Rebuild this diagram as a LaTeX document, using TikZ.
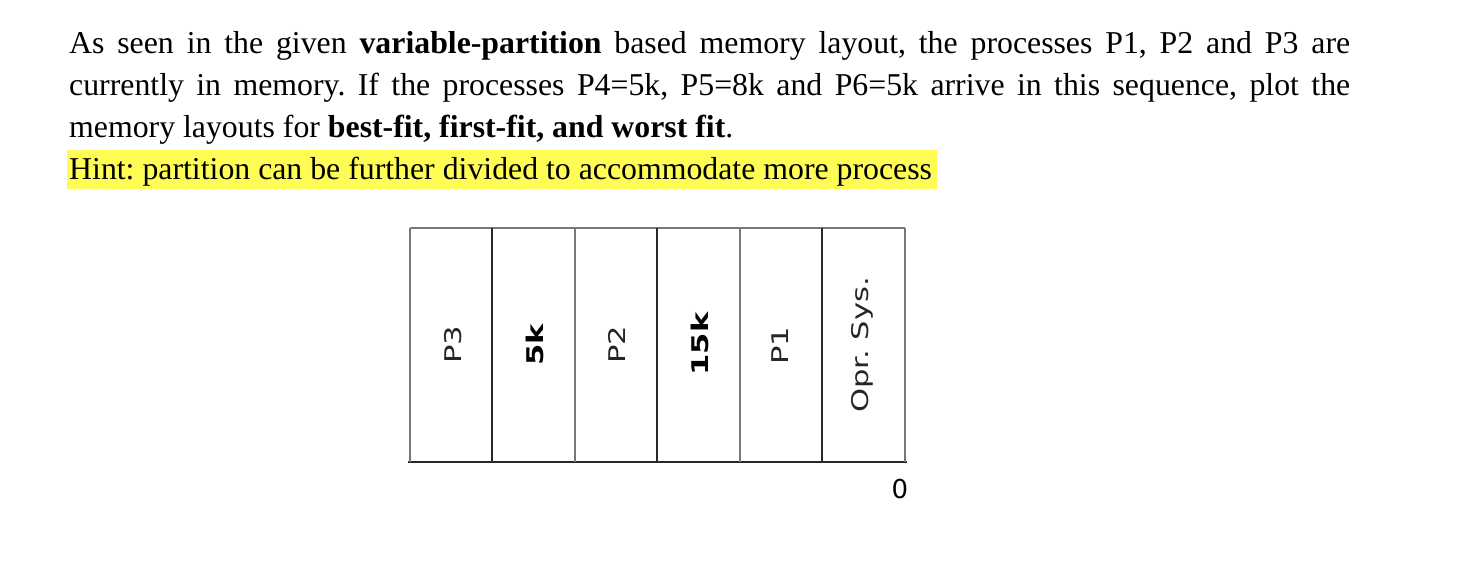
\documentclass[tikz,border=0pt]{standalone}
\usepackage{fontspec}
\setmainfont{Liberation Serif}
\newfontfamily\dvs{DejaVu Sans}
\definecolor{hiliteyellow}{RGB}{255,253,85}
\definecolor{linegray}{RGB}{120,120,120}
\definecolor{linedark}{RGB}{40,40,40}
\newcommand{\stretchlbl}[1]{\scalebox{1.33}[1]{#1}}
\begin{document}
\frenchspacing
\begin{tikzpicture}[x=1pt,y=-1pt,
  txtline/.style={anchor=base west,inner sep=0pt,font=\fontsize{31.8}{42}\selectfont},
  memlabel/.style={rotate=90,inner sep=0pt,font=\dvs\fontsize{23}{26}\selectfont,text=black!85},
  memlabelbold/.style={memlabel,font=\dvs\bfseries\fontsize{23}{26}\selectfont,text=black},
  gline/.style={draw=linegray,line width=1.3pt},
  dline/.style={draw=linedark,line width=1.3pt}]
\useasboundingbox (0,0) rectangle (1467,579);
% highlight
\fill[hiliteyellow] (67,150) rectangle (937,189);
% text
\node[txtline,text width=1281pt,align=justify] (para) at (69,53) {As seen in the given \textbf{variable-partition} based memory layout, the processes P1, P2 and P3 are\linebreak currently in memory. If the processes P4=5k, P5=8k and P6=5k arrive in this sequence, plot the\linebreak memory layouts for \textbf{best-fit, first-fit, and worst fit}.};
\node[txtline] (hint) at (69,179) {Hint: partition can be further divided to accommodate more process};
% memory layout
\draw[gline] (410,228) -- (905,228);
\draw[dline] (408,462) -- (907,462);
\foreach \x/\s in {410/gline,492/dline,575/gline,657/dline,740/gline,822/dline,905/gline}
  \draw[\s] (\x,228) -- (\x,462);
\node[memlabel] (p3) at (453,345) {\stretchlbl{P3}};
\node[memlabelbold] (h5) at (535,345) {\stretchlbl{5k}};
\node[memlabel] (p2) at (617,345) {\stretchlbl{P2}};
\node[memlabelbold] (h15) at (700,344) {\stretchlbl{15k}};
\node[memlabel] (p1) at (780,346) {\stretchlbl{P1}};
\node[memlabel] (os) at (862,345) {\stretchlbl{Opr.\ Sys.}};
\node[inner sep=0pt,font=\dvs\fontsize{26}{28}\selectfont] (zero) at (900,489) {0};
\end{tikzpicture}
\end{document}
